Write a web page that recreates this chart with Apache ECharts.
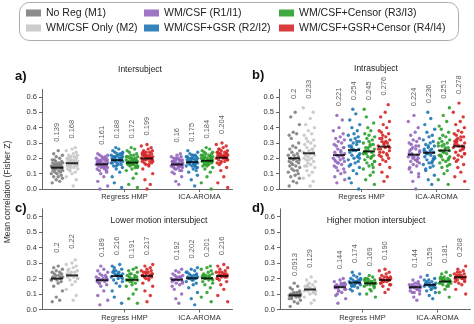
<!DOCTYPE html>
<html><head><meta charset="utf-8">
<script src="https://cdn.jsdelivr.net/npm/echarts@6/dist/echarts.min.js"></script>
<style>html,body{margin:0;padding:0;background:#fff}#c{width:474px;height:324px}</style>
</head><body><div id="c"></div>
<script>
// ---------- data ----------
const seriesNames = ['No Reg (M1)','WM/CSF Only (M2)','WM/CSF (R1/I1)','WM/CSF+GSR (R2/I2)','WM/CSF+Censor (R3/I3)','WM/CSF+GSR+Censor (R4/I4)'];
const groupLabels = ['Regress HMP','ICA-AROMA'];
const yTicks = [0,0.1,0.2,0.3,0.4,0.5,0.6];
const panelTitles = ['Intersubject','Intrasubject','Lower motion intersubject','Higher motion intersubject'];
const panelLetters = ['a)','b)','c)','d)'];
// group order: M1, M2, R1, R2, R3, R4, I1, I2, I3, I4
const meansA = ['0.139','0.168','0.161','0.188','0.172','0.199','0.16','0.175','0.184','0.204'];
const meansB = ['0.2','0.233','0.221','0.254','0.245','0.276','0.224','0.236','0.251','0.278'];
const meansC = ['0.2','0.22','0.189','0.216','0.191','0.217','0.192','0.202','0.201','0.216'];
const meansD = ['0.0913','0.129','0.144','0.174','0.169','0.190','0.144','0.159','0.181','0.208'];

// panel a (intersubject)
const a_M1 = [.04,.05,.06,.07,.08,.08,.09,.10,.10,.11,.11,.12,.12,.12,.13,.13,.13,.14,.14,.14,.14,.15,.15,.15,.15,.16,.16,.16,.17,.17,.17,.18,.18,.19,.19,.20,.21,.22,.23,.25];
const a_M2 = [.02,.06,.08,.10,.11,.12,.13,.13,.14,.14,.15,.15,.15,.16,.16,.16,.17,.17,.17,.17,.18,.18,.18,.18,.19,.19,.19,.20,.20,.20,.21,.21,.22,.22,.23,.24,.25,.26,.27,.12];
const a_R1 = [.00,.02,.05,.08,.10,.11,.12,.13,.13,.14,.14,.15,.15,.15,.16,.16,.16,.17,.17,.17,.17,.18,.18,.18,.18,.19,.19,.19,.19,.20,.20,.20,.21,.21,.22,.22,.23,.14,.16,.12];
const a_R2 = [.01,.04,.08,.11,.13,.14,.15,.16,.16,.17,.17,.18,.18,.18,.19,.19,.19,.20,.20,.20,.20,.21,.21,.21,.22,.22,.22,.23,.23,.24,.24,.25,.26,.27,.19,.21,.17,.20,.15,.23];
const a_R3 = [.01,.03,.07,.10,.12,.13,.14,.15,.15,.16,.16,.16,.17,.17,.17,.18,.18,.18,.18,.19,.19,.19,.20,.20,.20,.21,.21,.22,.22,.23,.24,.25,.26,.27,.14,.17,.19,.15,.21,.16];
const a_R4 = [.00,.03,.06,.10,.13,.15,.16,.17,.17,.18,.18,.19,.19,.19,.20,.20,.20,.21,.21,.21,.21,.22,.22,.22,.23,.23,.23,.24,.24,.25,.25,.26,.27,.28,.29,.20,.22,.18,.24,.16];
const a_I1 = [.03,.05,.08,.10,.11,.12,.13,.14,.14,.15,.15,.15,.16,.16,.16,.17,.17,.17,.17,.18,.18,.18,.19,.19,.19,.20,.20,.21,.21,.22,.23,.13,.16,.18,.14,.20,.12,.17,.15,.19];
const a_I2 = [.02,.06,.09,.11,.13,.14,.15,.15,.16,.16,.17,.17,.17,.18,.18,.18,.19,.19,.19,.20,.20,.20,.21,.21,.22,.22,.23,.24,.25,.16,.18,.19,.17,.21,.15,.20,.14,.18,.22,.12];
const a_I3 = [.00,.04,.08,.11,.13,.14,.15,.16,.16,.17,.17,.18,.18,.18,.19,.19,.19,.20,.20,.20,.21,.21,.21,.22,.22,.23,.23,.24,.25,.26,.27,.18,.20,.17,.19,.22,.15,.21,.16,.24];
const a_I4 = [.01,.04,.08,.12,.14,.16,.17,.18,.18,.19,.19,.20,.20,.20,.21,.21,.21,.22,.22,.22,.23,.23,.23,.24,.24,.25,.25,.26,.27,.28,.29,.30,.20,.22,.19,.24,.21,.17,.23,.26];

// panel b (intrasubject)
const b_M1 = [.02,.04,.05,.07,.08,.09,.10,.11,.12,.12,.13,.14,.15,.15,.16,.17,.17,.18,.18,.19,.19,.20,.20,.21,.22,.22,.23,.24,.25,.26,.27,.28,.30,.33,.35,.36,.37,.42,.47,.50];
const b_M2 = [.02,.05,.07,.09,.11,.12,.14,.15,.16,.17,.18,.19,.20,.20,.21,.22,.22,.23,.24,.24,.25,.26,.27,.28,.29,.30,.31,.32,.33,.35,.36,.38,.40,.42,.46,.50,.53,.19,.26,.15];
const b_R1 = [.04,.06,.08,.10,.12,.13,.14,.15,.16,.17,.18,.18,.19,.20,.20,.21,.22,.22,.23,.24,.25,.26,.27,.28,.29,.30,.31,.32,.33,.34,.36,.38,.40,.45,.48,.11,.19,.24,.17,.27];
const b_R2 = [.00,.04,.07,.10,.12,.14,.16,.17,.18,.19,.20,.21,.22,.23,.24,.25,.25,.26,.27,.28,.29,.30,.31,.32,.33,.34,.35,.36,.38,.40,.42,.45,.49,.52,.22,.28,.15,.31,.26,.20];
const b_R3 = [.03,.06,.09,.11,.13,.15,.16,.17,.18,.19,.20,.21,.22,.23,.24,.24,.25,.26,.27,.28,.29,.30,.31,.32,.33,.34,.36,.38,.40,.43,.47,.52,.21,.27,.18,.25,.29,.14,.23,.35];
const b_R4 = [.05,.08,.11,.14,.16,.18,.19,.20,.21,.22,.23,.24,.25,.26,.27,.28,.28,.29,.30,.31,.32,.33,.34,.35,.36,.37,.38,.40,.42,.44,.47,.50,.55,.26,.30,.22,.33,.27,.24,.31];
const b_I1 = [.00,.05,.08,.11,.13,.15,.16,.17,.18,.19,.20,.21,.21,.22,.23,.24,.25,.26,.27,.28,.29,.30,.31,.32,.33,.35,.37,.40,.44,.48,.18,.22,.25,.14,.28,.20,.10,.26,.23,.19];
const b_I2 = [.03,.06,.09,.12,.14,.15,.16,.17,.18,.19,.20,.21,.22,.23,.24,.24,.25,.26,.27,.28,.29,.30,.31,.32,.34,.35,.37,.39,.42,.46,.50,.20,.23,.26,.17,.28,.21,.13,.25,.19];
const b_I3 = [.03,.06,.10,.12,.14,.16,.17,.18,.19,.20,.21,.22,.23,.24,.25,.25,.26,.27,.28,.29,.30,.31,.32,.33,.34,.35,.37,.39,.41,.44,.48,.53,.22,.27,.19,.30,.24,.15,.28,.21];
const b_I4 = [.05,.08,.11,.14,.16,.18,.20,.21,.22,.23,.24,.25,.26,.27,.28,.28,.29,.30,.31,.32,.33,.34,.35,.36,.37,.38,.40,.42,.44,.47,.50,.56,.26,.31,.23,.29,.34,.19,.27,.32];

// panel c (lower motion intersubject)
const c_M1 = [.05,.06,.08,.12,.15,.17,.18,.19,.19,.20,.20,.21,.21,.22,.22,.23,.23,.24,.24,.25,.26,.27,.28,.21,.19];
const c_M2 = [.06,.09,.13,.16,.18,.19,.20,.21,.21,.22,.22,.23,.23,.24,.24,.25,.26,.27,.28,.29,.30,.32,.22,.20,.25];
const c_R1 = [.03,.06,.09,.12,.15,.16,.17,.18,.18,.19,.19,.20,.20,.21,.21,.22,.22,.23,.24,.25,.26,.28,.20,.17,.19];
const c_R2 = [.04,.08,.12,.15,.17,.18,.19,.20,.21,.21,.22,.22,.23,.23,.24,.24,.25,.26,.27,.28,.29,.22,.20,.25,.23];
const c_R3 = [.04,.07,.10,.13,.15,.16,.17,.18,.19,.19,.20,.20,.21,.21,.22,.22,.23,.24,.25,.26,.27,.19,.18,.21,.23];
const c_R4 = [.05,.09,.12,.15,.17,.19,.20,.21,.21,.22,.22,.23,.23,.24,.24,.25,.25,.26,.27,.28,.29,.22,.20,.24,.23];
const c_I1 = [.04,.07,.10,.13,.15,.16,.17,.18,.19,.19,.20,.20,.21,.21,.22,.22,.23,.24,.25,.26,.19,.18,.21,.20,.17];
const c_I2 = [.03,.07,.11,.14,.16,.17,.18,.19,.20,.20,.21,.21,.22,.22,.23,.23,.24,.25,.26,.27,.20,.19,.22,.24,.21];
const c_I3 = [.05,.08,.11,.14,.16,.17,.18,.19,.20,.20,.21,.21,.22,.22,.23,.23,.24,.25,.26,.27,.28,.20,.19,.22,.21];
const c_I4 = [.05,.09,.13,.16,.18,.19,.20,.21,.21,.22,.22,.23,.23,.24,.24,.25,.26,.27,.28,.29,.22,.21,.24,.20,.23];

// panel d (higher motion intersubject)
const d_M1 = [.02,.04,.05,.06,.07,.08,.08,.09,.09,.09,.10,.10,.10,.11,.11,.12,.13,.14,.15,.17,.09,.08,.10,.11,.07];
const d_M2 = [.04,.06,.08,.10,.11,.12,.12,.13,.13,.14,.14,.15,.15,.16,.17,.18,.19,.21,.13,.12,.14,.11,.16,.10,.13];
const d_R1 = [.04,.07,.09,.11,.12,.13,.14,.14,.15,.15,.16,.16,.17,.17,.18,.19,.20,.14,.13,.15,.16,.12,.17,.10,.15];
const d_R2 = [.10,.12,.13,.14,.15,.16,.16,.17,.17,.18,.18,.19,.19,.20,.20,.21,.22,.23,.24,.17,.18,.16,.19,.15,.18];
const d_R3 = [.08,.10,.12,.14,.15,.16,.16,.17,.17,.18,.18,.19,.19,.20,.20,.21,.22,.17,.16,.18,.15,.19,.13,.17,.18];
const d_R4 = [.11,.13,.15,.16,.17,.18,.18,.19,.19,.20,.20,.21,.21,.22,.23,.24,.25,.26,.19,.18,.20,.17,.21,.19,.16];
const d_I1 = [.06,.08,.10,.11,.12,.13,.14,.14,.15,.15,.16,.16,.17,.18,.19,.21,.14,.13,.15,.12,.16,.14,.17,.11,.15];
const d_I2 = [.07,.09,.11,.12,.13,.14,.15,.15,.16,.16,.17,.17,.18,.19,.20,.22,.16,.15,.17,.14,.18,.13,.16,.19,.15];
const d_I3 = [.08,.11,.13,.15,.16,.17,.17,.18,.18,.19,.19,.20,.20,.21,.22,.23,.24,.18,.17,.19,.16,.20,.18,.21,.15];
const d_I4 = [.10,.13,.16,.17,.18,.19,.20,.20,.21,.21,.22,.22,.23,.23,.24,.25,.26,.28,.21,.20,.22,.19,.24,.18,.21];

// ---------- presentation ----------
const COLORS = ['#7f7f7f','#c7c7c7','#9467bd','#1f77b4','#2ca02c','#d62728'];
const SLOT = [0,1,3,4,5,6,8,9,10,11];         // x slot of each group
const COLOR_OF = [0,1,2,3,4,5,2,3,4,5];       // colour of each group
const JITTER = [-0.32,0.18,-0.05,0.36,-0.22,0.08,0.28,-0.38,0.0,0.22,-0.14,0.38,-0.28,0.12,-0.08,0.31,-0.18];
const FONT = '"Liberation Sans", Arial, sans-serif';

const panels = [
  {groups:[a_M1,a_M2,a_R1,a_R2,a_R3,a_R4,a_I1,a_I2,a_I3,a_I4], means:meansA},
  {groups:[b_M1,b_M2,b_R1,b_R2,b_R3,b_R4,b_I1,b_I2,b_I3,b_I4], means:meansB},
  {groups:[c_M1,c_M2,c_R1,c_R2,c_R3,c_R4,c_I1,c_I2,c_I3,c_I4], means:meansC},
  {groups:[d_M1,d_M2,d_R1,d_R2,d_R3,d_R4,d_I1,d_I2,d_I3,d_I4], means:meansD}
];
const grids = [
  {left:42, top:89.3, width:190.5, height:99.7},
  {left:279, top:89.3, width:190.5, height:99.7},
  {left:42, top:208.8, width:190.5, height:100.7},
  {left:280, top:208.8, width:190.5, height:100.7}
];

const xAxes = [], yAxes = [], series = [];
panels.forEach((p, pi) => {
  xAxes.push({
    type:'value', gridIndex:pi, min:-1, max:11.7,
    axisLine:{show:true, onZero:false, lineStyle:{color:'#666', width:1}},
    axisTick:{show:true, length:3, lineStyle:{color:'#666'}, customValues:[4.5,9.5]},
    axisLabel:{show:true, customValues:[4.5,9.5], fontSize:7.5, color:'#333', fontFamily:FONT, margin:4,
      formatter: v => v < 7 ? groupLabels[0] : groupLabels[1]},
    splitLine:{show:false}
  });
  yAxes.push({
    type:'value', gridIndex:pi, min:0, max:0.65,
    axisLine:{show:true, onZero:false, lineStyle:{color:'#666', width:1}},
    axisTick:{show:true, length:3, lineStyle:{color:'#666'}, customValues:yTicks},
    axisLabel:{show:true, customValues:yTicks, fontSize:7.5, color:'#333', fontFamily:FONT, margin:5,
      formatter: v => v.toFixed(1)},
    splitLine:{show:false}
  });
  for (let k = 0; k < 6; k++) {
    const pts = [];
    p.groups.forEach((vals, g) => {
      if (COLOR_OF[g] !== k) return;
      vals.forEach((v, i) => pts.push([SLOT[g] + JITTER[(i + g * 5) % JITTER.length], v]));
    });
    series.push({
      type:'scatter', name:seriesNames[k], xAxisIndex:pi, yAxisIndex:pi,
      data:pts, symbol:'circle', symbolSize:3.4,
      itemStyle:{color:COLORS[k], opacity:0.9}, silent:true, z:2
    });
  }
  series.push({
    type:'scatter', name:'mean', xAxisIndex:pi, yAxisIndex:pi,
    data:p.means.map((m, g) => [SLOT[g], parseFloat(m)]),
    symbol:'rect', symbolSize:[12,2], itemStyle:{color:'#000'}, silent:true, z:5
  });
  series.push({
    type:'scatter', name:'meanLabel', xAxisIndex:pi, yAxisIndex:pi, clip:false,
    data:p.groups.map((vals, g) => [SLOT[g], Math.max.apply(null, vals) + 0.12]),
    symbolSize:0, silent:true, z:6,
    label:{show:true, position:'inside', rotate:90, align:'center', verticalAlign:'middle',
      fontSize:7.5, color:'#333', fontFamily:FONT,
      formatter: prm => p.means[prm.dataIndex]}
  });
});

const legendBase = {orient:'vertical', top:7.5, itemWidth:15, itemHeight:7, itemGap:4, icon:'rect',
  textStyle:{fontSize:10.5, color:'#222', fontFamily:FONT}, selectedMode:false, padding:0};

const graphic = [
  {type:'rect', shape:{x:19.5, y:2.5, width:439, height:38, r:10}, style:{fill:'none', stroke:'#aaa', lineWidth:1}},
  {type:'text', x:8, y:192, rotation:Math.PI/2, style:{text:'Mean correlation (Fisher Z)', fontSize:8.5, fill:'#333', fontFamily:FONT, textAlign:'center', textVerticalAlign:'middle'}}
];
const titlePos = [[140,70],[376,69],[159,221],[376,221]];
const letterPos = [[15,76],[252,75],[15,208],[252,208]];
panelTitles.forEach((t, i) => graphic.push({type:'text', x:titlePos[i][0], y:titlePos[i][1],
  style:{text:t, fontSize:8.5, fill:'#222', fontFamily:FONT, textAlign:'center', textVerticalAlign:'middle'}}));
panelLetters.forEach((t, i) => graphic.push({type:'text', x:letterPos[i][0], y:letterPos[i][1],
  style:{text:t, fontSize:13, fontWeight:'bold', fill:'#111', fontFamily:FONT, textAlign:'left', textVerticalAlign:'middle'}}));

const chart = echarts.init(document.getElementById('c'), null, {renderer:'canvas'});
chart.setOption({
  animation:false,
  grid:grids,
  xAxis:xAxes,
  yAxis:yAxes,
  legend:[
    Object.assign({}, legendBase, {left:26, data:[seriesNames[0], seriesNames[1]]}),
    Object.assign({}, legendBase, {left:144, data:[seriesNames[2], seriesNames[3]]}),
    Object.assign({}, legendBase, {left:279, data:[seriesNames[4], seriesNames[5]]})
  ],
  graphic:graphic,
  series:series
});
</script></body></html>
